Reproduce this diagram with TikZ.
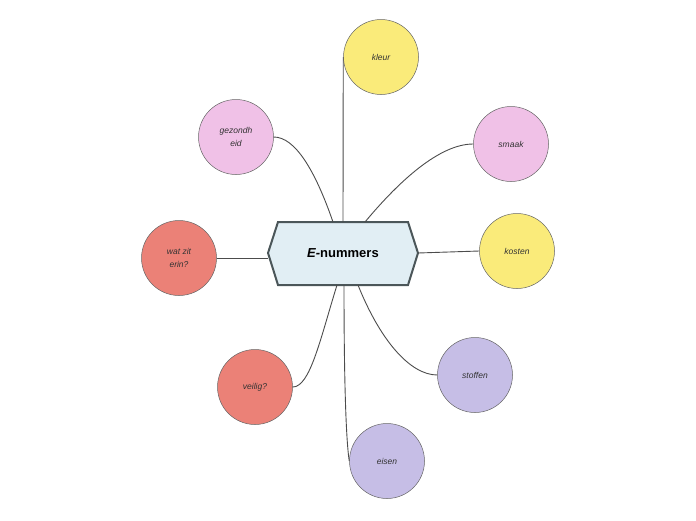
\documentclass[tikz,border=0pt]{standalone}
\usepackage{fontspec}
\setmainfont{Liberation Sans}
\usetikzlibrary{shapes.geometric}
\definecolor{cy}{HTML}{FAEB7A}
\definecolor{cp}{HTML}{F0C1E7}
\definecolor{cr}{HTML}{EB8177}
\definecolor{cv}{HTML}{C6BEE6}
\definecolor{hf}{HTML}{E1EEF4}
\definecolor{hb}{HTML}{4B5659}
\tikzset{
 topic/.style={circle,draw=black!60,line width=0.5pt,minimum size=75pt,inner sep=1pt,align=center,font=\itshape\fontsize{8.5}{13}\selectfont,text=black!80},
 link/.style={draw=black!70,line width=0.9pt},
}
\begin{document}
\begin{tikzpicture}[x=1pt,y=-1pt]
\useasboundingbox (0,0) rectangle (696,520);
\node[draw=hb,fill=hf,line width=2pt,regular polygon,regular polygon sides=6,shape border rotate=0,minimum width=0pt,inner sep=0pt,
 xscale=1,yscale=1] at (-1000,-1000) {};
\coordinate (c) at (343,253);
\filldraw[draw=hb,fill=hf,line width=2pt] (268,253)--(278,222)--(408,222)--(418,253)--(408,285)--(278,285)--cycle;
\node (hex) at (343,253) {\itshape\bfseries\fontsize{13}{15}\selectfont E-\textsc{nummers}};
\node[topic,fill=cy] (kleur) at (381,57) {kleur};
\node[topic,fill=cp] (smaak) at (511,144) {smaak};
\node[topic,fill=cy] (kosten) at (517,251) {kosten};
\node[topic,fill=cv] (stoffen) at (475,375) {stoffen};
\node[topic,fill=cv] (eisen) at (387,461) {eisen};
\node[topic,fill=cr] (veilig) at (255,387) {veilig?};
\node[topic,fill=cr] (wat) at (179,258) {wat zit\\erin?};
\node[topic,fill=cp] (gez) at (236,137) {gezondh\\eid};
\draw[link] (343,222) -- (kleur.west);
\draw[link] (365,222) .. controls (400,180) and (440,144) .. (smaak.west);
\draw[link] (418,253) -- (kosten.west);
\draw[link] (358,285) .. controls (380,340) and (410,375) .. (stoffen.west);
\draw[link] (344,285) .. controls (344,380) and (346,440) .. (eisen.west);
\draw[link] (337,285) .. controls (320,340) and (310,387) .. (veilig.east);
\draw[link] (268,258) -- (wat.east);
\draw[link] (333,222) .. controls (315,170) and (295,137) .. (gez.east);
\end{tikzpicture}
\end{document}
